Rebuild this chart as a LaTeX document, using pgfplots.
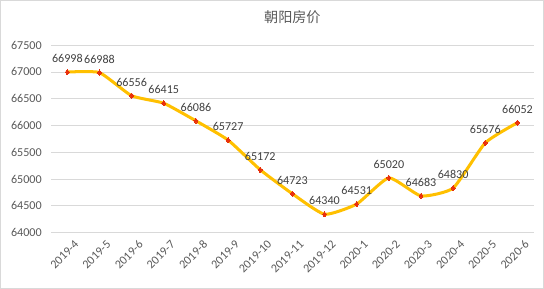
\documentclass[border=0pt]{standalone}
\usepackage{fontspec}
\setmainfont{Carlito}
\newfontfamily\cjk{Noto Sans CJK SC}
\usepackage{pgfplots}
\pgfplotsset{compat=1.18}
\definecolor{txt}{HTML}{595959}
\definecolor{gridc}{HTML}{D9D9D9}
\definecolor{linec}{HTML}{FFC000}
\definecolor{markc}{HTML}{E8300C}
\begin{document}
\begin{tikzpicture}[x=1pt,y=1pt]
\draw[gridc,line width=0.8pt] (0.5,0.5) rectangle (540,286.5);
\begin{axis}[
  at={(51pt,56pt)}, anchor=south west,
  scale only axis, width=479pt, height=186pt,
  xmin=-0.5, xmax=14.5, ymin=64000, ymax=67500,
  ytick={64000,64500,...,67500},
  xtick={0,...,14},
  xticklabels={2019-4,2019-5,2019-6,2019-7,2019-8,2019-9,2019-10,2019-11,2019-12,2020-1,2020-2,2020-3,2020-4,2020-5,2020-6},
  scaled y ticks=false,
  /pgf/number format/1000 sep={},
  /pgf/number format/assume math mode=true,
  ymajorgrids, grid style={gridc,line width=0.8pt},
  axis line style={draw=none},
  major tick length=0pt,
  tick label style={font=\fontsize{12}{14}\selectfont, text=txt},
  yticklabel style={xshift=-6pt},
  xticklabel style={rotate=45, anchor=north east, xshift=3pt, yshift=-6pt},
  clip=false,
  title={\cjk 朝阳房价},
  title style={font=\fontsize{14}{16}\selectfont, text=txt, at={(0.5,1)}, anchor=south, yshift=12pt},
  nodes near coords,
  nodes near coords style={font=\fontsize{12}{14}\selectfont, text=black!75, anchor=south, yshift=6pt, /pgf/number format/assume math mode=true},
]
\addplot[linec, line width=3pt, smooth, tension=0.3, mark=diamond*, mark size=2.6pt,
  mark options={fill=markc, draw=markc, line width=0pt}] coordinates {
(0,66998) (1,66988) (2,66556) (3,66415) (4,66086) (5,65727) (6,65172) (7,64723)
(8,64340) (9,64531) (10,65020) (11,64683) (12,64830) (13,65676) (14,66052)
};
\end{axis}
\end{tikzpicture}
\end{document}
